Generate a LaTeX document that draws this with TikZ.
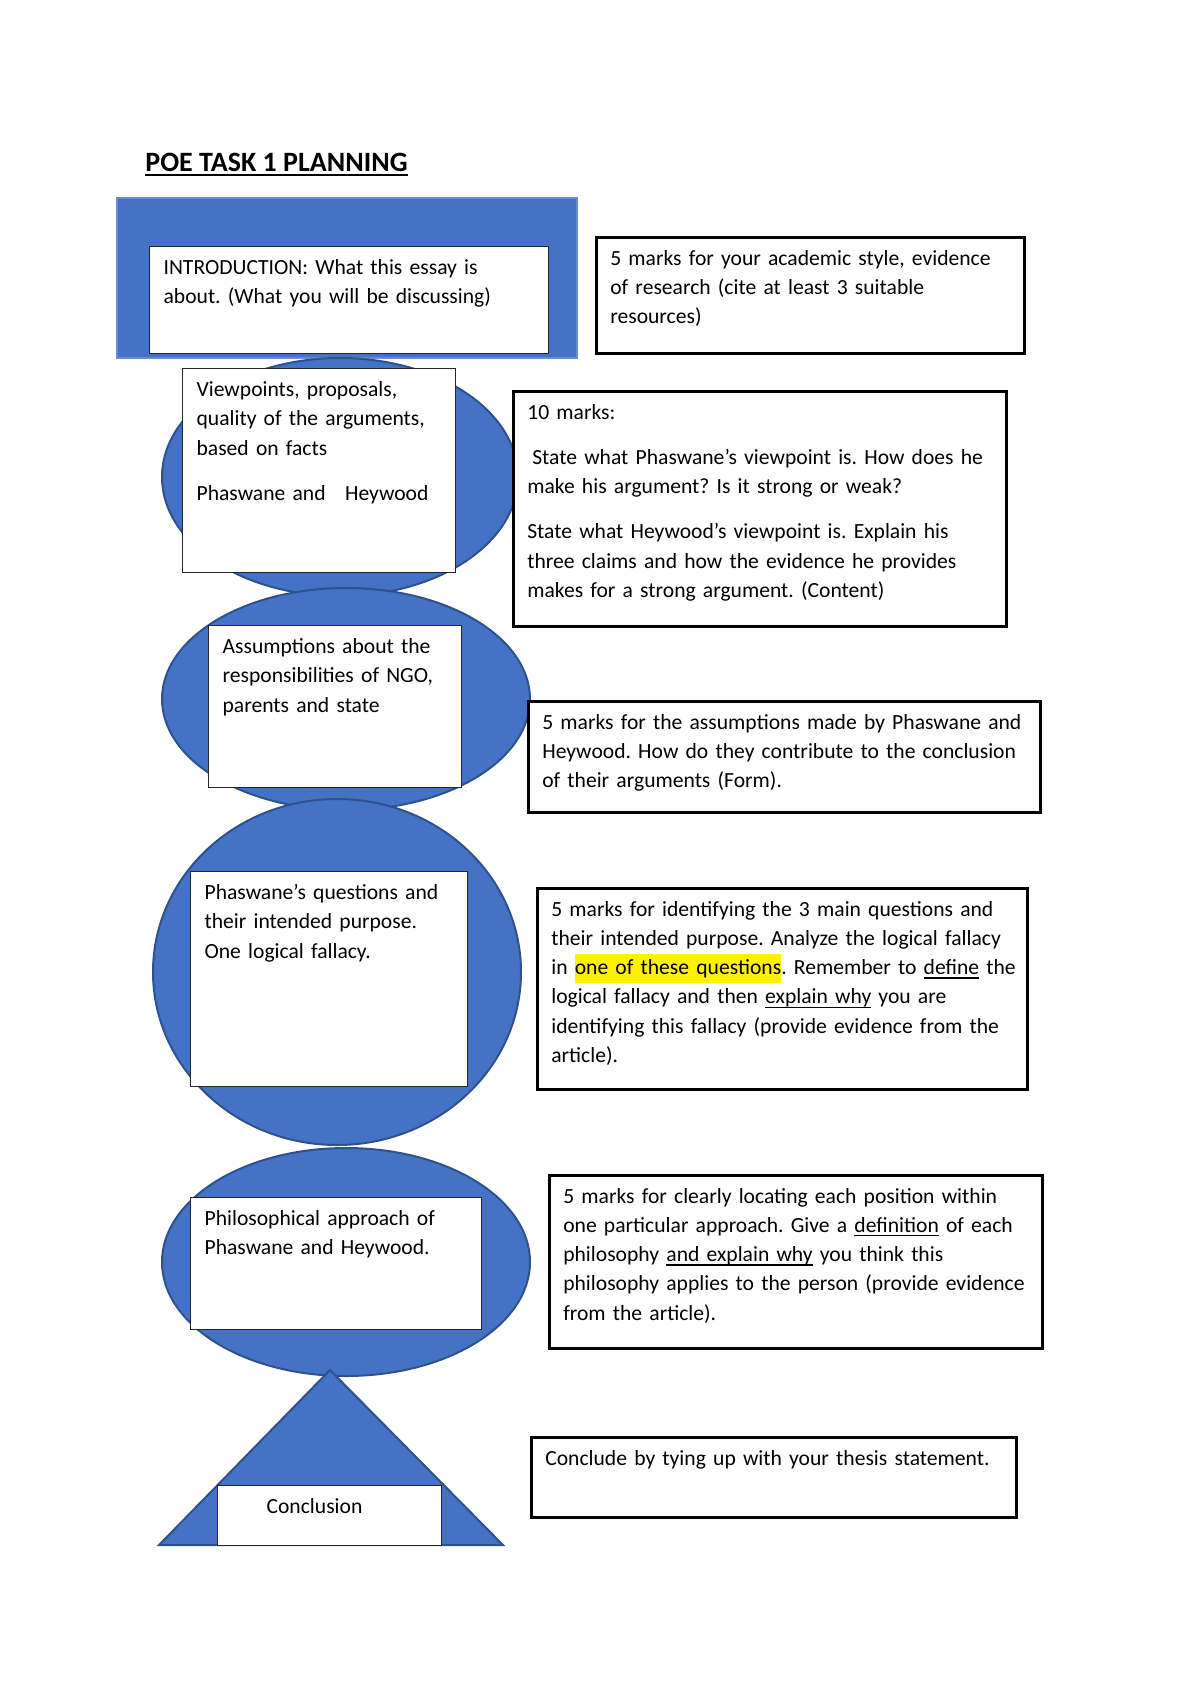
\documentclass[tikz,border=0pt]{standalone}
\usepackage{fontspec}
\setmainfont{Carlito}
\usepackage{xcolor}
\usepackage{tikz}
\usetikzlibrary{calc}
\usetikzlibrary{positioning}
\frenchspacing
\hyphenpenalty=10000
\exhyphenpenalty=10000
\definecolor{wordblue}{HTML}{4472C4}
\definecolor{wordedge}{HTML}{2F528F}
\newcommand{\hilite}[1]{{\setlength{\fboxsep}{0pt}\colorbox{yellow}{\strut #1}}}
\newcommand{\uln}[1]{\leavevmode{\setbox0\hbox{#1}\rlap{\vrule height -1.3pt depth 1.9pt width \wd0}\box0}}
\newcommand{\bodyfont}{\fontsize{10.8}{14.6}\selectfont}
\tikzstyle{blob} = [fill=wordblue, draw=wordedge, line width=1pt]
\tikzstyle{leftbox} = [draw=black!85, line width=0.6pt, fill=white, anchor=north west, align=left, inner xsep=7pt, inner ysep=0pt, text height=14pt, font=\bodyfont, execute at begin node={\rightskip=-60pt plus 1fil\relax}]
\tikzstyle{markbox} = [leftbox, draw=black, line width=1.3pt]

\begin{document}
\begin{tikzpicture}[x=0.5pt, y=-0.5pt]
\useasboundingbox (0,0) rectangle (1200,1698);
\node [anchor=base west, inner sep=0pt, font=\bfseries\fontsize{14}{17}\selectfont] (title) at (145,171) {\setbox0\hbox{POE TASK 1 PLANNING}\rlap{\vrule height -1.5pt depth 2.5pt width \wd0}\box0};

% blue shapes
\draw [fill=wordblue, draw=wordblue!80!white, line width=1pt] (117,198) rectangle (577,358);
\draw [blob] (340,477) ellipse [x radius=178, y radius=119];
\draw [blob] (346,699) ellipse [x radius=184, y radius=111];
\draw [blob] (337,972) ellipse [x radius=184, y radius=173];
\draw [blob] (346,1262) ellipse [x radius=184, y radius=114];
\draw [blob] (330,1370) -- (503,1545) -- (159,1545) -- cycle;

% left column
\node [leftbox, text width=185.5pt, text depth=39.5pt] (intro) at (149,246) {INTRODUCTION: What this essay is\\ about. (What you will be discussing)};
\node [leftbox, text width=122.5pt, text depth=88pt] (views) at (182,368) {Viewpoints, proposals,\\ quality of the arguments,\\ based on facts\\[8pt] Phaswane and\hspace{0.9em}Heywood};
\node [leftbox, text width=112.5pt, text depth=67pt] (assume) at (208,625) {Assumptions about the\\ responsibilities of NGO,\\ parents and state};
\node [leftbox, text width=124.5pt, text depth=93.5pt] (quest) at (190,871) {Phaswane’s questions and\\ their intended purpose.\\ One logical fallacy.};
\node [leftbox, text width=131.5pt, text depth=52pt] (philo) at (190,1197) {Philosophical approach of\\ Phaswane and Heywood.};
\node [leftbox, text width=98pt, text depth=16pt] (concl) at (217,1485) {\hspace*{17.5pt}Conclusion};

% marks column
\node [markbox, text width=200pt, text depth=44pt] (style) at (595,236) {5 marks for your academic style, evidence\\ of research (cite at least 3 suitable\\ resources)};
\node [markbox, text width=232.5pt, text depth=103.5pt] (content) at (512,390) {10 marks:\\[8pt] \hspace*{2.5pt}State what Phaswane’s viewpoint is. How does he\\ make his argument? Is it strong or weak?\\[8pt] State what Heywood’s viewpoint is. Explain his\\ three claims and how the evidence he provides\\ makes for a strong argument. (Content)};
\node [markbox, text width=242pt, text depth=41.5pt] (form) at (527,700) {5 marks for the assumptions made by Phaswane and\\ Heywood. How do they contribute to the conclusion\\ of their arguments (Form).};
\node [markbox, text width=231pt, text depth=86.5pt] (fallacy) at (536,887) {5 marks for identifying the 3 main questions and\\ their intended purpose. Analyze the logical fallacy\\ in \hilite{one of these questions}. Remember to \uln{define} the\\ logical fallacy and then \uln{explain why} you are\\ identifying this fallacy (provide evidence from the\\ article).};
\node [markbox, text width=232.5pt, text depth=72.5pt] (approach) at (548,1174) {5 marks for clearly locating each position within\\ one particular approach. Give a \uln{definition} of each\\ philosophy \uln{and explain why} you think this\\ philosophy applies to the person (provide evidence\\ from the article).};
\node [markbox, text width=228.5pt, text depth=26pt] (thesis) at (530,1436) {Conclude by tying up with your thesis statement.};
\end{tikzpicture}
\end{document}
